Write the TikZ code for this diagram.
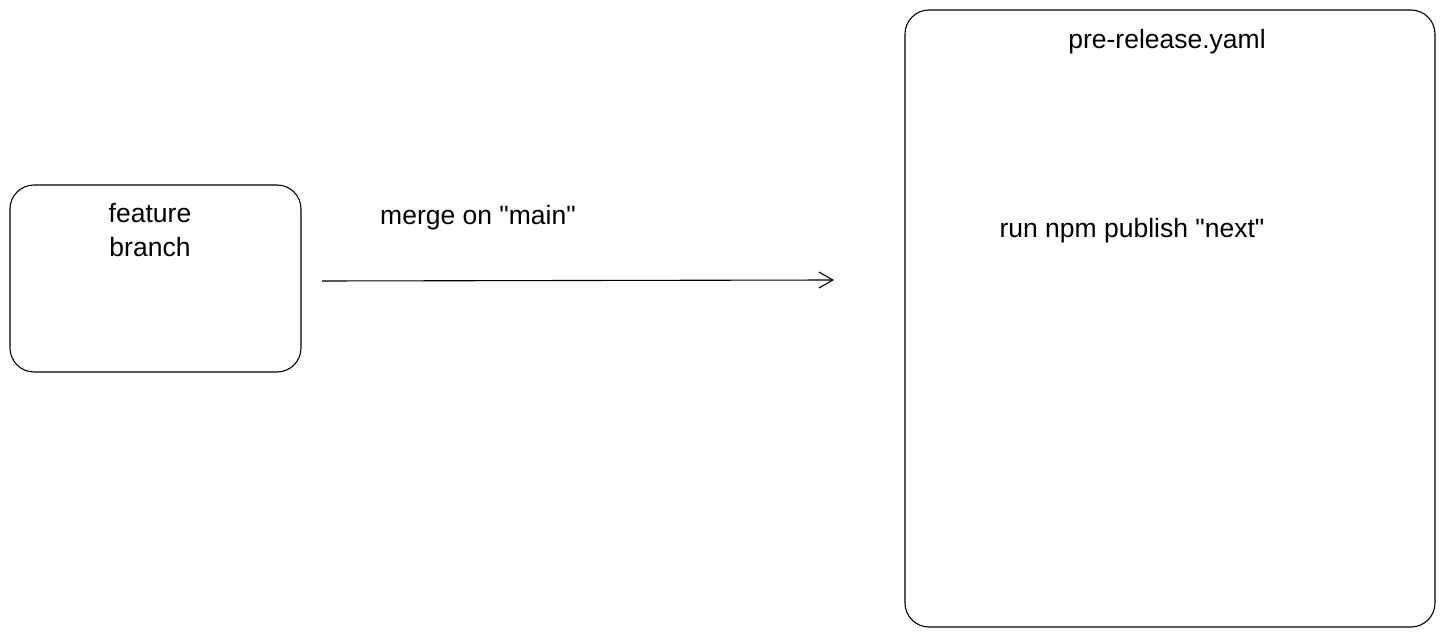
\documentclass[tikz,border=0pt]{standalone}
\usepackage{fontspec}
\setmainfont[Ligatures=TeXOff]{Liberation Sans}
\usetikzlibrary{arrows.meta}
\begin{document}
\begin{tikzpicture}[x=1pt,y=-1pt,
  box/.style={draw=black,line width=1.1pt,rounded corners=24pt},
  lbl/.style={font=\fontsize{26.5}{34}\selectfont,align=center,inner sep=0pt},
  conn/.style={draw=black,line width=1.1pt,-{Straight Barb[length=14pt,width=16pt,line width=1.1pt]}}]
\useasboundingbox (0,0) rectangle (1444,636);
\node[box,minimum width=291pt,minimum height=187pt] (fb) at (155.5,278.5) {};
\node[lbl] (fbt) at (150,230) {feature\\branch};
\node[box,minimum width=530pt,minimum height=617pt] (pr) at (1170,318.5) {};
\node[lbl] (prt) at (1167,42) {pre-release.yaml};
\node[lbl] (run) at (1132,231) {run npm publish "next"};
\coordinate (a) at (322,281);
\coordinate (b) at (834,280);
\draw[conn] (a) -- (b);
\node[lbl] (merge) at (478,218) {merge on "main"};
\end{tikzpicture}
\end{document}
